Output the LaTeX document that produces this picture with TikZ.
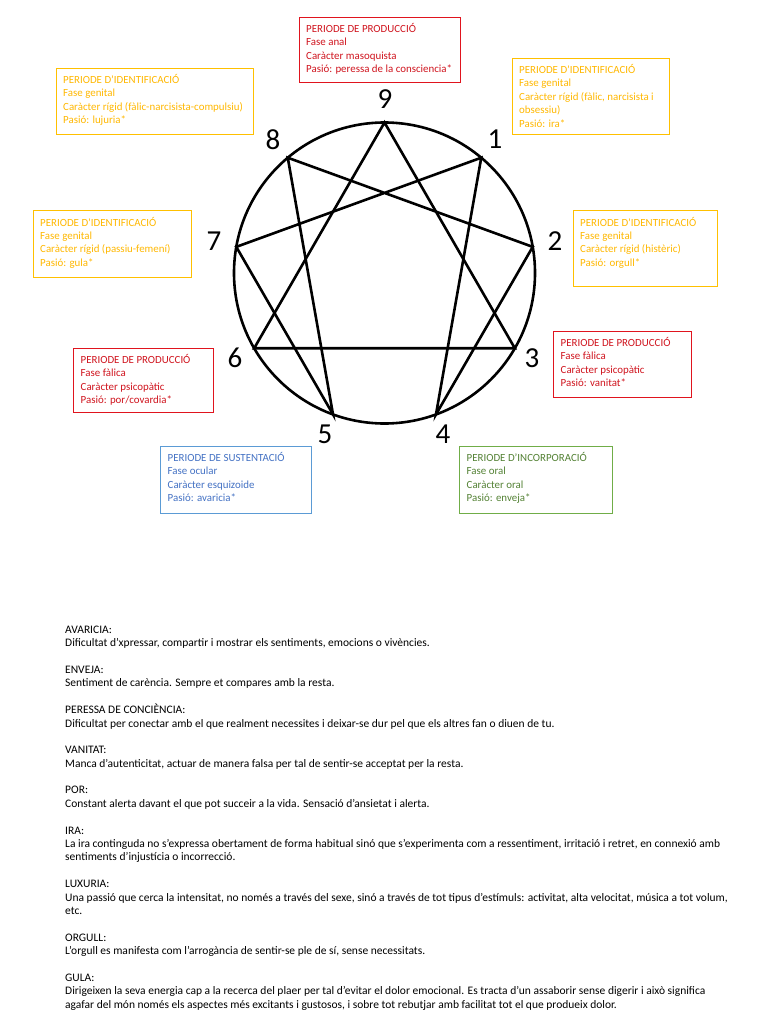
\documentclass[tikz,border=0pt]{standalone}
\usepackage{fontspec}
\setmainfont{Carlito}
\usetikzlibrary{calc}
\definecolor{redline}{HTML}{E0141E}
\definecolor{redtext}{HTML}{D0141E}
\definecolor{goldline}{HTML}{FFC000}
\definecolor{goldtext}{HTML}{FFB800}
\definecolor{blueline}{HTML}{5B9BD5}
\definecolor{bluetext}{HTML}{4472C4}
\definecolor{greenline}{HTML}{70AD47}
\definecolor{greentext}{HTML}{548235}
\begin{document}
\begin{tikzpicture}[x=1pt,y=-1pt,
  frame/.style={draw, line width=1pt, anchor=north west, inner sep=0pt},
  boxtext/.style={anchor=north west, inner sep=0pt, align=left, font=\fontsize{10.9}{13.4}\selectfont},
  num/.style={font=\fontsize{29}{30}\selectfont, inner sep=0pt, anchor=center},
  para/.style={anchor=north west, inner sep=0pt, align=left, font=\fontsize{11.5}{13.4}\selectfont},
  ennea/.style={line width=2.6pt, line join=miter, line cap=round}]
\useasboundingbox (0,0) rectangle (768,1024);
\fill[white] (0,0) rectangle (768,1024);

% enneagram
\coordinate (c) at (384.5,273);
\draw[ennea] (c) circle[radius=150.5];
\foreach \n/\a in {9/90,1/50,2/10,3/-30,4/-70,5/-110,6/-150,7/170,8/130}
  \coordinate (v\n) at ($(c)+({150.5*cos(\a)},{-150.5*sin(\a)})$);
\draw[ennea] (v9) -- (v3) -- (v6) -- cycle;
\draw[ennea] (v1) -- (v4) -- (v2) -- (v8) -- (v5) -- (v7) -- cycle;

% numbers
\node[num] (n9) at (385,99.5) {9};
\node[num] (n1) at (495,139.5) {1};
\node[num] (n2) at (555,241.5) {2};
\node[num] (n3) at (532,358) {3};
\node[num] (n4) at (443,434) {4};
\node[num] (n5) at (325,434) {5};
\node[num] (n6) at (235,358) {6};
\node[num] (n7) at (214,241.5) {7};
\node[num] (n8) at (273,139.5) {8};

% boxes
\node[frame, draw=redline, minimum width=161, minimum height=65] (b9) at (298.5,17) {};
\node[boxtext, text=redtext] (t9) at ([shift={(7.5,6)}]b9.north west)
  {\strut PERIODE DE PRODUCCIÓ\\Fase anal\\Caràcter masoquista\\Pasió: peressa de la consciencia*};

\node[frame, draw=goldline, minimum width=197, minimum height=66] (b8) at (55.5,68) {};
\node[boxtext, text=goldtext] (t8) at ([shift={(7.5,6)}]b8.north west)
  {\strut PERIODE D’IDENTIFICACIÓ\\Fase genital\\Caràcter rígid (fàlic-narcisista-compulsiu)\\Pasió: lujuria*};

\node[frame, draw=goldline, minimum width=157, minimum height=76] (b1) at (511.5,58) {};
\node[boxtext, text=goldtext] (t1) at ([shift={(7.5,6)}]b1.north west)
  {\strut PERIODE D’IDENTIFICACIÓ\\Fase genital\\Caràcter rígid (fàlic, narcisista i\\obsessiu)\\Pasió: ira*};

\node[frame, draw=goldline, minimum width=158, minimum height=66] (b7) at (32.5,210.5) {};
\node[boxtext, text=goldtext] (t7) at ([shift={(7.5,6)}]b7.north west)
  {\strut PERIODE D’IDENTIFICACIÓ\\Fase genital\\Caràcter rígid (passiu-femení)\\Pasió: gula*};

\node[frame, draw=goldline, minimum width=144, minimum height=75.5] (b2) at (572.5,210.5) {};
\node[boxtext, text=goldtext] (t2) at ([shift={(7.5,6)}]b2.north west)
  {\strut PERIODE D’IDENTIFICACIÓ\\Fase genital\\Caràcter rígid (histèric)\\Pasió: orgull*};

\node[frame, draw=redline, minimum width=139.5, minimum height=64] (b6) at (73,348) {};
\node[boxtext, text=redtext] (t6) at ([shift={(7.5,6)}]b6.north west)
  {\strut PERIODE DE PRODUCCIÓ\\Fase fàlica\\Caràcter psicopàtic\\Pasió: por/covardia*};

\node[frame, draw=redline, minimum width=138, minimum height=66] (b3) at (553,331) {};
\node[boxtext, text=redtext] (t3) at ([shift={(7.5,6)}]b3.north west)
  {\strut PERIODE DE PRODUCCIÓ\\Fase fàlica\\Caràcter psicopàtic\\Pasió: vanitat*};

\node[frame, draw=blueline, minimum width=151, minimum height=67] (b5) at (160,446) {};
\node[boxtext, text=bluetext] (t5) at ([shift={(7.5,6)}]b5.north west)
  {\strut PERIODE DE SUSTENTACIÓ\\Fase ocular\\Caràcter esquizoide\\Pasió: avaricia*};

\node[frame, draw=greenline, minimum width=153, minimum height=67] (b4) at (459,446) {};
\node[boxtext, text=greentext] (t4) at ([shift={(7.5,6)}]b4.north west)
  {\strut PERIODE D’INCORPORACIÓ\\Fase oral\\Caràcter oral\\Pasió: enveja*};

% glossary
\node[para] (p1) at (65,623.6) {\strut AVARICIA:\\Dificultat d’xpressar, compartir i mostrar els sentiments, emocions o vivències.};
\node[para] (p2) at (65,663.8) {\strut ENVEJA:\\Sentiment de carència. Sempre et compares amb la resta.};
\node[para] (p3) at (65,704.0) {\strut PERESSA DE CONCIÈNCIA:\\Dificultat per conectar amb el que realment necessites i deixar-se dur pel que els altres fan o diuen de tu.};
\node[para] (p4) at (65,744.2) {\strut VANITAT:\\Manca d’autenticitat, actuar de manera falsa per tal de sentir-se acceptat per la resta.};
\node[para] (p5) at (65,784.4) {\strut POR:\\Constant alerta davant el que pot succeir a la vida. Sensació d’ansietat i alerta.};
\node[para] (p6) at (65,824.6) {\strut IRA:\\La ira continguda no s’expressa obertament de forma habitual sinó que s’experimenta com a ressentiment, irritació i retret, en connexió amb\\sentiments d’injustícia o incorrecció.};
\node[para] (p7) at (65,878.2) {\strut LUXURIA:\\Una passió que cerca la intensitat, no només a través del sexe, sinó a través de tot tipus d’estímuls: activitat, alta velocitat, música a tot volum,\\etc.};
\node[para] (p8) at (65,931.8) {\strut ORGULL:\\L’orgull es manifesta com l’arrogància de sentir-se ple de sí, sense necessitats.};
\node[para] (p9) at (65,972.0) {\strut GULA:\\Dirigeixen la seva energia cap a la recerca del plaer per tal d’evitar el dolor emocional. Es tracta d’un assaborir sense digerir i això significa\\agafar del món només els aspectes més excitants i gustosos, i sobre tot rebutjar amb facilitat tot el que produeix dolor.};
\end{tikzpicture}
\end{document}
